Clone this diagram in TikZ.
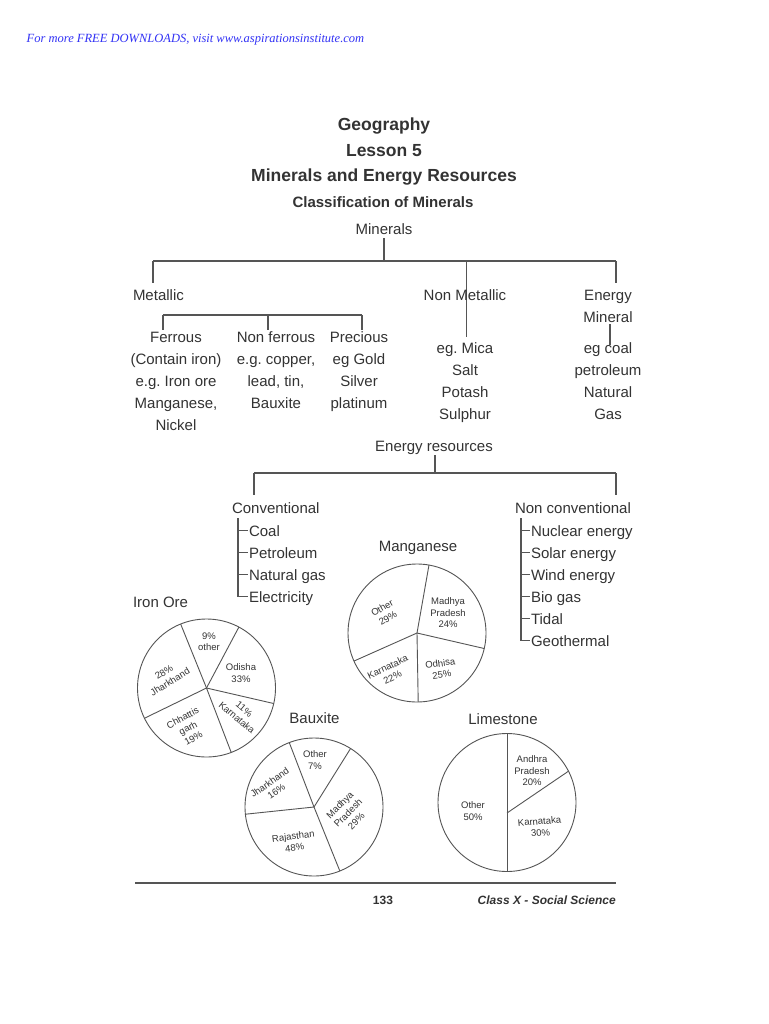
\documentclass[tikz,border=0pt]{standalone}
\usepackage{fontspec}
\setmainfont{Liberation Sans}
\newfontfamily\hdrfont{Liberation Serif}
\definecolor{txt}{HTML}{333333}
\definecolor{ln}{HTML}{555555}
\definecolor{hdrblue}{RGB}{50,50,245}
\tikzset{
  tx/.style={font=\fontsize{15}{22}\selectfont, text=txt, inner sep=0pt, outer sep=0pt, anchor=base},
  txm/.style={font=\fontsize{15}{22}\selectfont, text=txt, inner sep=0pt, outer sep=0pt, align=center, anchor=north},
  ttl/.style={font=\bfseries\fontsize{17.5}{20}\selectfont, text=txt, inner sep=0pt, anchor=base},
  pl/.style={font=\fontsize{9.5}{11.5}\selectfont, text=txt, inner sep=0pt, align=center},
  treeline/.style={draw=ln, line width=1.2pt},
  piec/.style={circle, draw=ln, line width=0.9pt, minimum size=138pt, inner sep=0pt, outer sep=0pt},
  pieline/.style={draw=ln, line width=0.9pt},
}
\frenchspacing
\begin{document}
\frenchspacing
\begin{tikzpicture}[x=1pt,y=-1pt]
\fill[white] (0,0) rectangle (768,1024);
\useasboundingbox (0,0) rectangle (768,1024);

% header
\node[font=\hdrfont\itshape\fontsize{12.5}{14}\selectfont, text=hdrblue, anchor=base west, inner sep=0pt] (hdr) at (26.5,43) {For more FREE DOWNLOADS, visit www.aspirationsinstitute.com};

% titles
\node[ttl] (geo) at (384,131) {Geography};
\node[ttl] (lesson) at (384,157) {Lesson 5};
\node[ttl] (mer) at (384,182) {Minerals and Energy Resources};
\node[ttl, font=\bfseries\fontsize{15}{18}\selectfont] (cls) at (383,208) {Classification of Minerals};

% minerals tree
\node[tx] (minerals) at (384,235) {Minerals};
\coordinate (mj) at (384,261);
\coordinate (mjL) at (153,261);
\coordinate (mjN) at (466.5,261);
\coordinate (mjR) at (616,261);
\draw[treeline] (minerals.south) ++(0,3) -- (mj);
\draw[treeline] (mjL) -- (mjR);
\draw[treeline] (mjL) -- ++(0,22);
\draw[treeline] (mjR) -- ++(0,22);
\draw[treeline] (mjN) -- ++(0,76);

\node[tx, anchor=base west] (metallic) at (133,300) {Metallic};
\node[tx] (nonmet) at (465,300) {Non Metallic};
\node[txm] (energymin) at (608,284.6) {\strut Energy\\Mineral};

\coordinate (fj1) at (163,315);
\coordinate (fj2) at (268,315);
\coordinate (fj3) at (362,315);
\draw[treeline] (fj1) -- (fj3);
\draw[treeline] (fj1) -- ++(0,15);
\draw[treeline] (fj2) -- ++(0,15);
\draw[treeline] (fj3) -- ++(0,15);

\node[txm] (ferrous) at (176,326.6) {\strut Ferrous\\(Contain iron)\\e.g. Iron ore\\Manganese,\\Nickel};
\node[txm] (nonferrous) at (276,326.6) {\strut Non ferrous\\e.g. copper,\\lead, tin,\\Bauxite};
\node[txm] (precious) at (359,326.6) {\strut Precious\\eg Gold\\Silver\\platinum};
\node[txm] (nmex) at (465,337.6) {\strut eg. Mica\\Salt\\Potash\\Sulphur};
\node[txm] (enex) at (608,337.6) {\strut eg coal\\petroleum\\Natural\\Gas};
\draw[treeline] (610,324) -- (610,345);

% energy resources tree
\node[tx] (eres) at (434,451) {Energy resources};
\coordinate (ej) at (435,473);
\coordinate (ejL) at (254,473);
\coordinate (ejR) at (616,473);
\draw[treeline] (435,455) -- (ej);
\draw[treeline] (ejL) -- (ejR);
\draw[treeline] (ejL) -- ++(0,22);
\draw[treeline] (ejR) -- ++(0,22);
\node[tx, anchor=base west] (conv) at (232,513) {Conventional};
\node[tx, anchor=base west] (nconv) at (515,513) {Non conventional};

\draw[treeline] (238,518) -- (238,596.6);
\foreach \nm/\tt [count=\i] in {coal/Coal, petro/Petroleum, ngas/Natural gas, elec/Electricity}{
  \node[tx, anchor=base west] (\nm) at (249,514+22*\i) {\tt};
  \draw[treeline] (238,508.6+22*\i) -- (248,508.6+22*\i);
}
\draw[treeline] (521,518) -- (521,640.6);
\foreach \nm/\tt [count=\i] in {nuc/Nuclear energy, sol/Solar energy, wind/Wind energy, bio/Bio gas, tid/Tidal, geo/Geothermal}{
  \node[tx, anchor=base west] (\nm) at (531,514+22*\i) {\tt};
  \draw[treeline] (521,508.6+22*\i) -- (530,508.6+22*\i);
}

% pie titles
\node[tx] (mangt) at (418,551) {Manganese};
\node[tx, anchor=base west] (iront) at (133,607) {Iron Ore};
\node[tx] (bauxt) at (314.5,723.5) {Bauxite};
\node[tx] (limet) at (503,724) {Limestone};

% Iron ore pie
\node[piec] (iron) at (206.5,688) {};
\foreach \a in {112,62,347.5,291,206} \draw[pieline] (iron.center) -- (iron.\a);
\node[pl] (io1) at (209,641.5) {9\%\\other};
\node[pl] (io2) at (241,673) {Odisha\\33\%};
\node[pl, rotate=-40] (io3) at (240.5,713.5) {11\%\\Karnataka};
\node[pl, rotate=32] (io4) at (167,677) {28\%\\Jharkhand};
\node[pl, rotate=28] (io5) at (188,728) {Chhattis\\garh\\19\%};

% Manganese pie
\node[piec] (mang) at (417,633) {};
\foreach \a in {80.7,347,271,204} \draw[pieline] (mang.center) -- (mang.\a);
\node[pl, rotate=30] (mn1) at (385,613) {Other\\29\%};
\node[pl] (mn2) at (448,613) {Madhya\\Pradesh\\24\%};
\node[pl, rotate=8] (mn3) at (441,669) {Odhisa\\25\%};
\node[pl, rotate=25] (mn4) at (390,672) {Karnataka\\22\%};

% Bauxite pie
\node[piec] (baux) at (314,807) {};
\foreach \a in {111,58,292,186.5} \draw[pieline] (baux.center) -- (baux.\a);
\node[pl] (bx1) at (315,760) {Other\\7\%};
\node[pl, rotate=35] (bx2) at (273,787) {Jharkhand\\16\%};
\node[pl, rotate=45] (bx3) at (348,813) {Madhya\\Pradesh\\29\%};
\node[pl, rotate=7] (bx4) at (294,842) {Rajasthan\\48\%};

% Limestone pie
\node[piec] (lime) at (507,802.5) {};
\coordinate (limej) at (507,813);
\draw[pieline] (lime.90) -- (lime.270);
\draw[pieline] (limej) -- (lime.27);
\node[pl] (ls1) at (532,771) {Andhra\\Pradesh\\20\%};
\node[pl] (ls2) at (473,811) {Other\\50\%};
\node[pl, rotate=5] (ls3) at (540,827) {Karnataka\\30\%};

% footer
\coordinate (fl) at (135,883);
\coordinate (fr) at (616,883);
\draw[draw=ln, line width=1.3pt] (fl) -- (fr);
\node[ttl, font=\bfseries\fontsize{12}{14}\selectfont] (pg) at (383,904) {133};
\node[ttl, font=\bfseries\itshape\fontsize{12}{14}\selectfont, anchor=base east] (cx) at (616,904) {Class X - Social Science};
\end{tikzpicture}
\end{document}
